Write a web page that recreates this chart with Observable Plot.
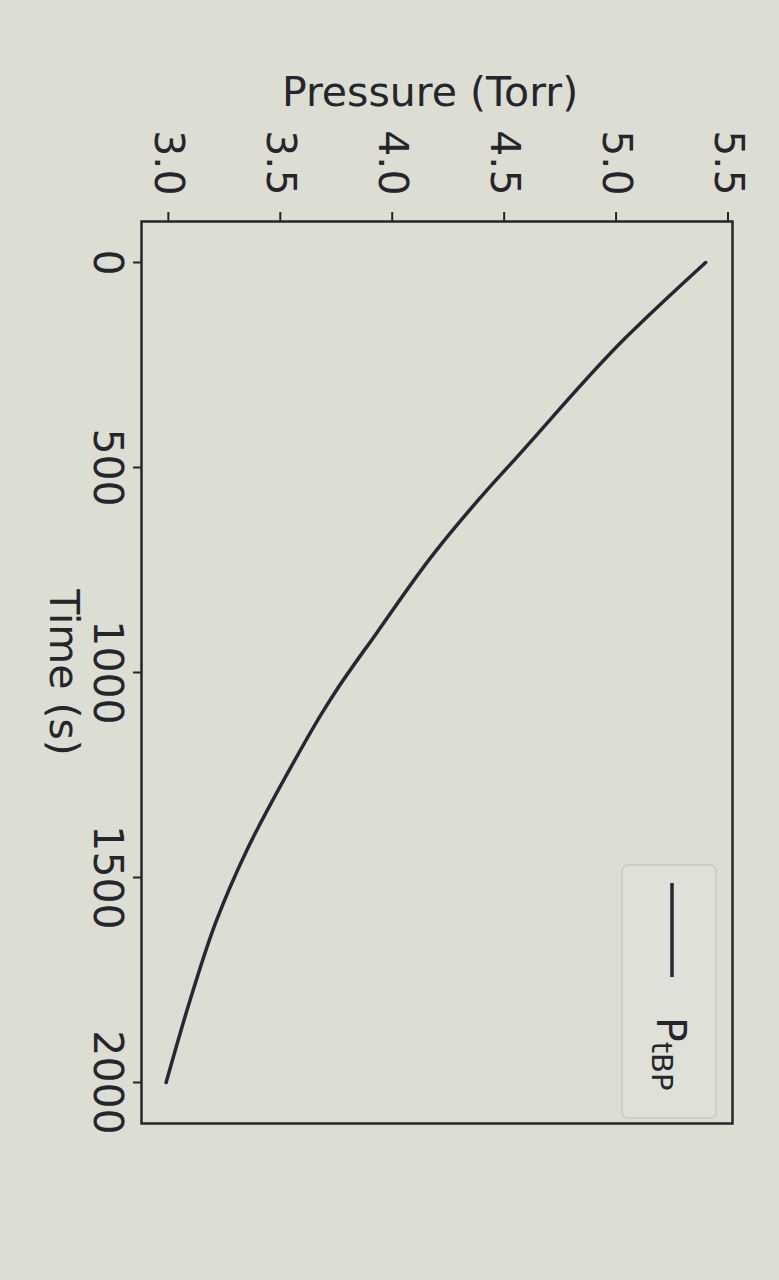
<!DOCTYPE html>
<html><head><meta charset="utf-8">
<script src="https://cdn.jsdelivr.net/npm/d3@7"></script>
<script src="https://cdn.jsdelivr.net/npm/@observablehq/plot@0.6"></script>
<style>
html,body{margin:0;padding:0;width:779px;height:1280px;overflow:hidden;background:#dcddd3;}
#wrap{position:absolute;left:0;top:0;width:1280px;height:779px;transform-origin:0 0;transform:translate(779px,0) rotate(90deg);}
</style></head><body><div id="wrap"></div>
<script>
// Data (time in s, pressure in Torr)
const timeS = [0, 185, 479, 545, 707, 904, 1048, 1091, 1248, 1434, 1612, 1776, 2000];
const pressureTorr = [5.40, 5.04, 4.55, 4.44, 4.19, 3.93, 3.745, 3.695, 3.53, 3.35, 3.21, 3.11, 2.99];
const timeTicks = [0, 500, 1000, 1500, 2000];
const pressureTicks = [3.0, 3.5, 4.0, 4.5, 5.0, 5.5];
const xLabel = "Time (s)";
const yLabel = "Pressure (Torr)";
const seriesName = "P";
const seriesSub = "tBP";

const data = timeS.map((t, i) => ({t, p: pressureTorr[i]}));

const W = 1280, H = 779, mL = 221, mR = 157, mT = 46, mB = 142;
const ink = "#25252d";
const font = "'DejaVu Sans', sans-serif";

const chart = Plot.plot({
  width: W, height: H,
  marginLeft: mL, marginRight: mR, marginTop: mT, marginBottom: mB,
  style: {background: "transparent", fontFamily: font, fontSize: "41px", color: ink, overflow: "visible"},
  x: {domain: [-100, 2100]},
  y: {domain: [2.88, 5.52]},
  marks: [
    Plot.axisX({ticks: timeTicks, tickSize: 9, tickPadding: 9, tickFormat: d => String(d), label: null, strokeWidth: 2, fontSize: 41}),
    Plot.axisY({ticks: pressureTicks, tickSize: 9, tickPadding: 17, tickFormat: d => d.toFixed(1), label: null, strokeWidth: 2, fontSize: 41}),
    Plot.line(data, {x: "t", y: "p", stroke: "#262636", strokeWidth: 3.5, curve: "monotone-x"}),
    Plot.frame({stroke: ink, strokeWidth: 2.5}),
    Plot.text([xLabel], {text: d => d, frameAnchor: "bottom", lineAnchor: "top", dy: 62, fontSize: 41, fill: ink}),
    Plot.text([yLabel], {text: d => d, frameAnchor: "left", textAnchor: "middle", lineAnchor: "bottom", rotate: -90, dx: -116, dy: 7, fontSize: 41, fill: ink})
  ]
});

// legend (upper right of the frame in the unrotated chart)
const svg = d3.select(chart);
const right = W - mR;
const lg = svg.append("g").attr("font-family", font).attr("text-anchor", "start");
lg.append("rect")
  .attr("x", right - 258).attr("y", mT + 17).attr("width", 253).attr("height", 94)
  .attr("rx", 6).attr("fill", "rgba(255,255,255,0.1)").attr("stroke", "#c8c8c2").attr("stroke-width", 1.5);
lg.append("line")
  .attr("x1", right - 240).attr("x2", right - 146).attr("y1", mT + 61).attr("y2", mT + 61)
  .attr("stroke", "#262636").attr("stroke-width", 3.5);
const t = lg.append("text").attr("x", right - 106).attr("y", mT + 76).attr("fill", ink).attr("font-size", 41).attr("text-anchor", "start");
t.append("tspan").text(seriesName);
t.append("tspan").attr("font-size", 29).attr("dy", 5).text(seriesSub);

document.getElementById("wrap").appendChild(chart);
</script>
</body></html>
